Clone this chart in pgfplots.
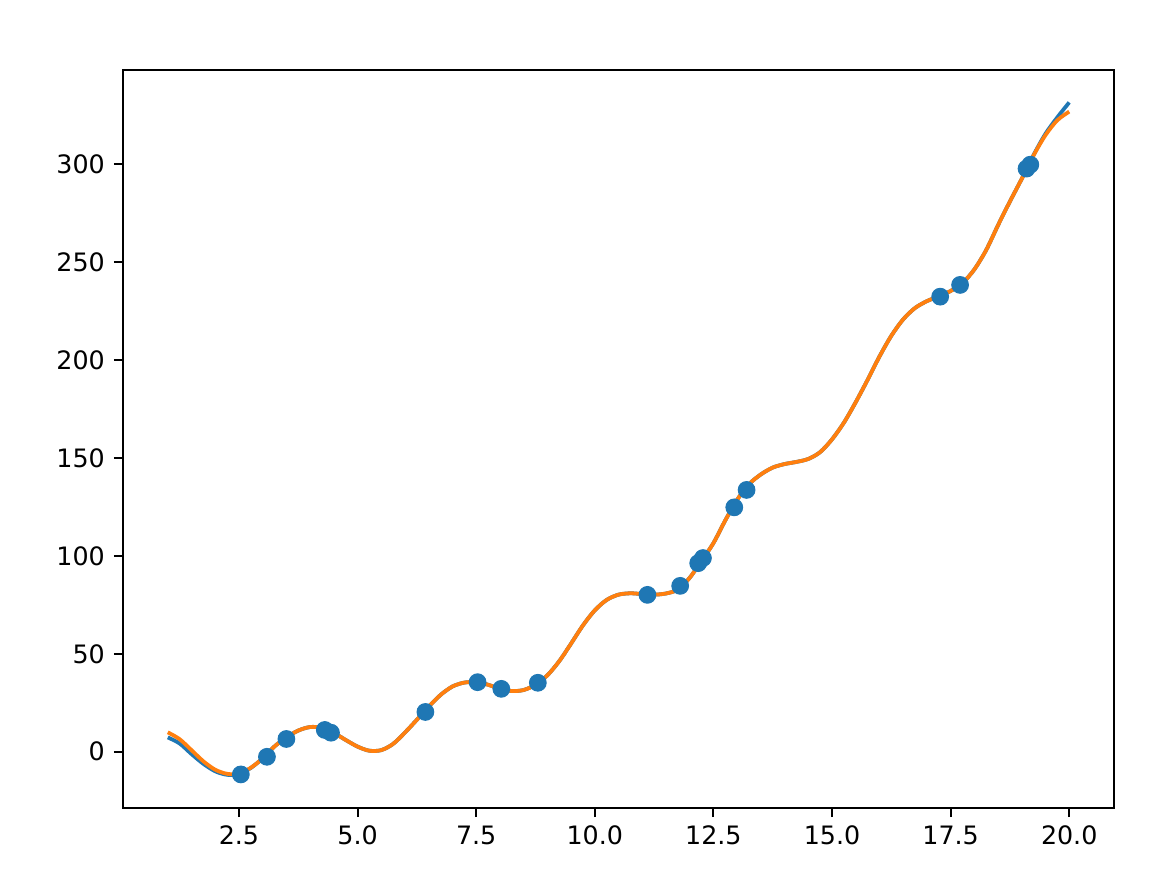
\documentclass[border=0pt]{standalone}
\usepackage{fontspec}
\setmainfont{DejaVu Sans}
\usepackage{pgfplots}
\pgfplotsset{compat=1.18}
\definecolor{C0}{HTML}{1F77B4}
\definecolor{C1}{HTML}{FF7F0E}
\begin{document}
\begin{tikzpicture}
\useasboundingbox (-48.41pt,-31.05pt) rectangle (412.39pt,318.89pt);
\begin{axis}[at={(0,0)},anchor=south west,scale only axis,
  width=391.2pt,height=291.3pt,
  xmin=0.05,xmax=20.95,ymin=-28.9,ymax=348.2,
  xtick={2.5,5,7.5,10,12.5,15,17.5,20},
  ytick={0,50,100,150,200,250,300},
  xticklabel style={/pgf/number format/fixed,/pgf/number format/fixed zerofill,/pgf/number format/precision=1},
  /pgf/number format/assume math mode=true,
  tick align=outside,xtick pos=bottom,ytick pos=left,
  major tick length=3.5pt,
  every tick/.style={black,line width=0.8pt},
  axis line style={line width=0.8pt},
  tick label style={font=\fontsize{10}{12}\selectfont},
]
\addplot[only marks,color=C0,mark=*,mark size=3.3pt,mark options={draw=C0,fill=C0}] coordinates {
(2.54,-11.6)(3.09,-2.6)(3.50,6.5)(4.31,11.1)(4.44,9.7)(6.43,20.3)(7.53,35.5)(8.03,32.1)(8.80,35.2)
(11.11,80.1)(11.80,84.7)(12.18,96.3)(12.28,98.9)(12.94,124.8)(13.20,133.7)(17.28,232.4)(17.70,238.4)
(19.10,297.8)(19.18,299.8)};
\addplot[C0,line width=1.5pt,smooth] coordinates {
(1.00,7.3)(1.25,4.2)(1.50,-1.2)(1.75,-6.2)(2.00,-10.0)(2.25,-11.8)(2.50,-11.5)(2.75,-8.3)
(3.00,-3.4)(3.25,2.7)(3.50,7.3)(3.75,10.8)(4.00,12.6)(4.25,12.2)(4.50,9.6)(4.75,6.0)
(5.00,2.6)(5.25,0.5)(5.50,0.8)(5.75,4.0)(6.00,9.8)(6.25,16.3)(6.50,23.0)(6.75,29.0)
(7.00,33.3)(7.25,35.3)(7.50,35.5)(7.75,34.2)(8.00,32.2)(8.25,31.0)(8.50,31.5)(8.75,34.2)
(9.00,39.0)(9.25,46.2)(9.50,55.2)(9.75,64.5)(10.00,72.2)(10.25,77.5)(10.50,80.2)(10.75,80.9)
(11.00,80.5)(11.25,80.2)(11.50,80.8)(11.75,82.8)(12.00,88.8)(12.25,97.5)(12.50,106.5)(12.75,118.1)
(13.00,128.6)(13.25,136.6)(13.50,141.6)(13.75,145.1)(14.00,146.9)(14.25,148.0)(14.50,149.5)(14.75,153.0)
(15.00,159.5)(15.25,168.0)(15.50,178.5)(15.75,189.9)(16.00,201.8)(16.25,212.4)(16.50,220.8)(16.75,226.6)
(17.00,230.1)(17.25,232.6)(17.50,235.3)(17.75,239.3)(18.00,246.3)(18.25,256.2)(18.50,268.9)(18.75,281.0)
(19.00,292.6)(19.25,304.8)(19.50,315.6)(19.75,324.0)(20.00,331.6)};
\addplot[C1,line width=1.5pt,smooth] coordinates {
(1.00,9.9)(1.25,6.4)(1.50,0.8)(1.75,-4.9)(2.00,-9.2)(2.25,-11.3)(2.50,-11.2)(2.75,-8.2)
(3.00,-3.4)(3.25,2.7)(3.50,7.3)(3.75,10.8)(4.00,12.6)(4.25,12.2)(4.50,9.6)(4.75,6.0)
(5.00,2.6)(5.25,0.5)(5.50,0.8)(5.75,4.0)(6.00,9.8)(6.25,16.3)(6.50,23.0)(6.75,29.0)
(7.00,33.3)(7.25,35.3)(7.50,35.5)(7.75,34.2)(8.00,32.2)(8.25,31.0)(8.50,31.5)(8.75,34.2)
(9.00,39.0)(9.25,46.2)(9.50,55.2)(9.75,64.5)(10.00,72.2)(10.25,77.5)(10.50,80.2)(10.75,80.9)
(11.00,80.5)(11.25,80.2)(11.50,80.8)(11.75,82.8)(12.00,88.8)(12.25,97.5)(12.50,106.5)(12.75,118.1)
(13.00,128.6)(13.25,136.6)(13.50,141.6)(13.75,145.1)(14.00,146.9)(14.25,148.0)(14.50,149.5)(14.75,153.0)
(15.00,159.5)(15.25,168.0)(15.50,178.5)(15.75,189.9)(16.00,201.8)(16.25,212.4)(16.50,220.8)(16.75,226.6)
(17.00,230.1)(17.25,232.6)(17.50,235.3)(17.75,239.3)(18.00,246.3)(18.25,256.2)(18.50,268.9)(18.75,281.0)
(19.00,292.6)(19.25,304.6)(19.50,314.9)(19.75,322.5)(20.00,326.9)};
\end{axis}
\end{tikzpicture}
\end{document}
